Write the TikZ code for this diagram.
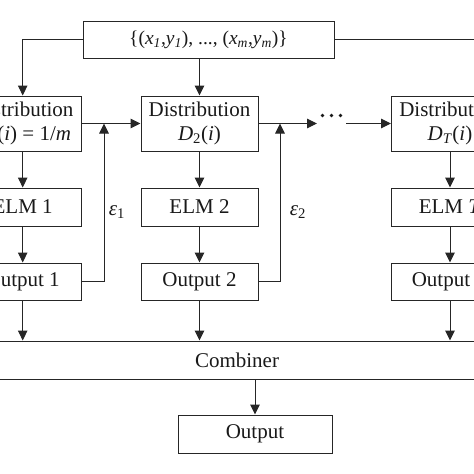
\documentclass[tikz,border=0pt]{standalone}
\usepackage{fontspec}
\setmainfont{Liberation Serif}
\usetikzlibrary{arrows.meta}
\newcommand{\sbs}[1]{\textsubscript{#1}}
\begin{document}
\begin{tikzpicture}[x=1pt,y=-1pt,
  box/.style={draw=black!85,line width=1pt,minimum width=117pt,inner sep=0pt,align=center,font=\fontsize{21}{24.5}\selectfont,text=black!90},
  conn/.style={draw=black!85,line width=1pt},
  arr/.style={conn,-{Triangle[length=10pt,width=9.5pt]}},
  lab/.style={font=\fontsize{21}{24}\selectfont,text=black!90},
  dot/.style={circle,fill=black!90,inner sep=0pt,minimum size=3.6pt}]
\useasboundingbox (0,0) rectangle (474,474);
\clip (0,0) rectangle (474,474);
% nodes
\node[box,minimum width=251pt,minimum height=37pt,font=\fontsize{19.5}{23}\selectfont] (data) at (208.5,39.5) {\{(\textit{x}\sbs{\textit{1}},\textit{y}\sbs{\textit{1}}), ..., (\textit{x}\sbs{\textit{m}},\textit{y}\sbs{\textit{m}})\}};
\node[box,minimum height=55pt] (d1) at (22.7,123.5) {Distribution\\\textit{D}\sbs{1}(\textit{i}) = 1/\textit{m}};
\node[box,minimum height=55pt] (d2) at (199.5,123.5) {Distribution\\\textit{D}\sbs{2}(\textit{i})};
\node[box,minimum height=55pt] (dT) at (450,123.5) {Distribution\\\textit{D}\sbs{\textit{T}}(\textit{i})};
\node[box,minimum height=38pt] (e1) at (22.7,207) {ELM 1};
\node[box,minimum height=38pt] (e2) at (199.5,207) {ELM 2};
\node[box,minimum height=38pt] (eT) at (450,207) {ELM \textit{T}};
\node[box,minimum height=37pt] (o1) at (22.7,281.5) {Output 1};
\node[box,minimum height=37pt] (o2) at (199.5,281.5) {Output 2};
\node[box,minimum height=37pt] (oT) at (450,281.5) {Output \textit{T}};
\node[box,minimum width=600pt,minimum height=38pt] (comb) at (237,360) {Combiner};
\node[box,minimum width=154pt,minimum height=38pt] (out) at (255,434) {Output};
\node[lab] (eps1) at (117,212) {\textit{ε}\sbs{1}};
\node[lab] (eps2) at (298,212) {\textit{ε}\sbs{2}};
\node[dot] (dt1) at (322.5,115.5) {};
\node[dot] (dt2) at (331.5,115.5) {};
\node[dot] (dt3) at (340.5,115.5) {};
% coordinates
\coordinate (f1) at (104,281.5);
\coordinate (f2) at (280,281.5);
\coordinate (a2) at (317,123.5);
\coordinate (b2) at (346,123.5);
\coordinate (rT) at (490,39.5);
% connectors
\draw[arr] (data.west) -| (d1.north);
\draw[arr] (data.south -| d2.north) -- (d2.north);
\draw[arr] (data.east) -| (rT |- dT.north);
\draw[arr] (d1) -- (e1);
\draw[arr] (d2) -- (e2);
\draw[arr] (dT) -- (eT);
\draw[arr] (e1) -- (o1);
\draw[arr] (e2) -- (o2);
\draw[arr] (eT) -- (oT);
\draw[arr] (o1.south) -- (o1.south |- comb.north);
\draw[arr] (o2.south) -- (o2.south |- comb.north);
\draw[arr] (oT.south) -- (oT.south |- comb.north);
\draw[arr] (comb.south -| out.north) -- (out.north);
\draw[arr] (d1.east) -- (d2.west);
\draw[arr] (d2.east) -- (a2);
\draw[arr] (b2) -- (dT.west);
\draw[arr] (o1.east) -- (f1) -- (f1 |- d1.east);
\draw[arr] (o2.east) -- (f2) -- (f2 |- d2.east);
\end{tikzpicture}
\end{document}
